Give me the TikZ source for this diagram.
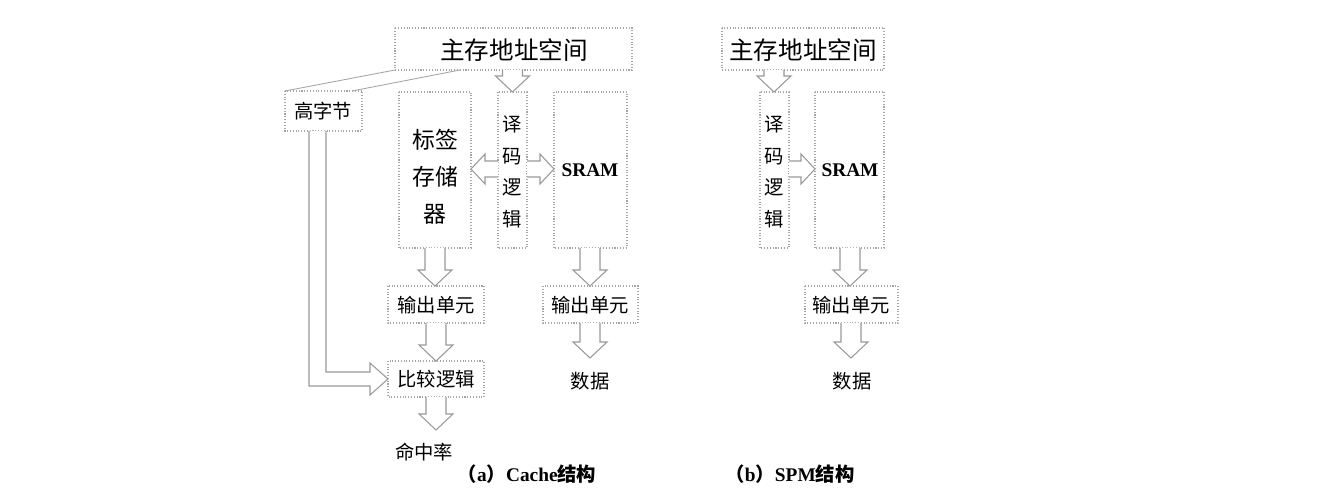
\documentclass[tikz,border=0pt]{standalone}
\usepackage{fontspec}
\setmainfont{Liberation Serif}
\newfontfamily\cjk{Noto Sans CJK SC}
\begin{document}
\begin{tikzpicture}[x=0.02cm,y=-0.02cm,
 box/.style={draw=gray!70,densely dotted,line width=0.6pt},
 ha/.style={draw=gray!80,line width=0.6pt,fill=white},
 lab/.style={font=\cjk\fontsize{11}{12}\selectfont}]
\useasboundingbox (0,0) rectangle (1320,493);
\newcommand\hdn[3]{\draw[ha] (#1-10,#2)--(#1-10,#3-16)--(#1-17,#3-16)--(#1,#3)--(#1+17,#3-16)--(#1+10,#3-16)--(#1+10,#2);}
% (a)
\draw[box] (395,28) rectangle (632,70);
\node[font=\cjk\fontsize{14}{16}\selectfont] (topat) at (514,50) {主存地址空间};
\draw[box] (285,91) rectangle (362,131);
\node[lab] (hz) at (323,111) {高字节};
\draw[gray!70,line width=0.5pt] (395,70)--(285,91) (460,70)--(352,91);
\draw[box] (399,92) rectangle (471,248);
\node[font=\cjk\fontsize{13}{21}\selectfont,align=center] (tag) at (435,177) {标签\\存储\\器};
\draw[box] (498,92) rectangle (527,248);
\node[font=\cjk\fontsize{11}{18}\selectfont,align=center] (deca) at (512.5,172) {译\\码\\逻\\辑};
\draw[box] (554,92) rectangle (627,248);
\node[font=\bfseries\fontsize{11}{12}\selectfont] (srama) at (590,170) {SRAM};
\hdn{512.5}{70}{92}
\draw[ha] (498,161)--(485,161)--(485,154)--(471,169)--(485,184)--(485,177)--(498,177);
\draw[ha] (527,161)--(540,161)--(540,154)--(554,169)--(540,184)--(540,177)--(527,177);
\hdn{435}{248}{286}
\hdn{590}{248}{286}
\draw[box] (388,286) rectangle (484,323);
\node[lab] (oa1) at (436,305) {输出单元};
\draw[box] (543,286) rectangle (638,323);
\node[lab] (oa2) at (590,305) {输出单元};
\hdn{436}{323}{361}
\hdn{590}{323}{358}
\node[lab] (da) at (590,381) {数据};
\draw[box] (388,361) rectangle (484,397);
\node[lab] (cmp) at (436,379) {比较逻辑};
\draw[ha] (309,131)--(309,386)--(370,386)--(370,395)--(388,379)--(370,363)--(370,372)--(326,372)--(326,131);
\hdn{436}{397}{430}
\node[lab] (hit) at (424,452) {命中率};
\node[font=\bfseries\fontsize{11}{12}\selectfont] (ca) at (527,474) {{\cjk （}a{\cjk ）}Cache{\cjk 结构}};
% (b)
\draw[box] (722,28) rectangle (884,70);
\node[font=\cjk\fontsize{14}{16}\selectfont] (topb) at (803,50) {主存地址空间};
\hdn{774}{70}{92}
\draw[box] (760,92) rectangle (789,248);
\node[font=\cjk\fontsize{11}{18}\selectfont,align=center] (decb) at (774.5,172) {译\\码\\逻\\辑};
\draw[box] (815,92) rectangle (884,248);
\node[font=\bfseries\fontsize{11}{12}\selectfont] (sramb) at (850,170) {SRAM};
\draw[ha] (789,161)--(801,161)--(801,154)--(815,169)--(801,184)--(801,177)--(789,177);
\hdn{850}{248}{286}
\draw[box] (805,286) rectangle (898,323);
\node[lab] (ob) at (851,305) {输出单元};
\hdn{851}{323}{358}
\node[lab] (db) at (852,381) {数据};
\node[font=\bfseries\fontsize{11}{12}\selectfont] (cb) at (790,474) {{\cjk （}b{\cjk ）}SPM{\cjk 结构}};
\end{tikzpicture}
\end{document}
